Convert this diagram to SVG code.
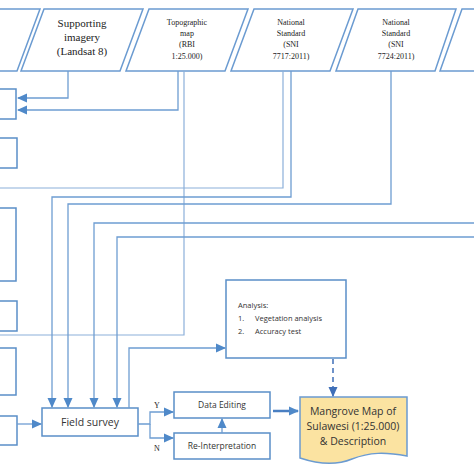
<svg xmlns="http://www.w3.org/2000/svg" width="474" height="474" viewBox="0 0 474 474">
<defs>
<style>
.par{fill:#fff;stroke:#6b9bd1;stroke-width:1.5}
.box{fill:#fff;stroke:#5a8ec8;stroke-width:1.5}
.ln{fill:none;stroke:#8cb0da;stroke-width:1.2}
.ln2{fill:none;stroke:#6e9dd2;stroke-width:1.3}
.tm{font-family:"Liberation Serif",serif;fill:#222;text-anchor:middle}
.ts{font-family:"Open Sans","Liberation Sans",sans-serif;fill:#333}
</style>
<marker id="ah" markerWidth="10" markerHeight="10" refX="9" refY="5" orient="auto" markerUnits="userSpaceOnUse">
<path d="M0,0.5 L10,5 L0,9.5 Z" fill="#4f89c9"/>
</marker>
<marker id="ahd" markerWidth="10" markerHeight="10" refX="9" refY="5" orient="auto" markerUnits="userSpaceOnUse">
<path d="M0,0.5 L10,5 L0,9.5 Z" fill="#3f6fb8"/>
</marker>
</defs>
<rect width="474" height="474" fill="#fff"/>

<g id="p1"><polygon class="par" points="-60,9 40,9 17,71 -83,71"/></g>
<g id="p2"><polygon class="par" points="44,9 143,9 120,71 21,71"/>
<text class="tm" font-size="11" x="82" y="27">Supporting</text>
<text class="tm" font-size="11" x="82" y="41">imagery</text>
<text class="tm" font-size="11" x="82" y="55">(Landsat 8)</text></g>
<g id="p3"><polygon class="par" points="149,9 248,9 225,71 126,71"/>
<text class="tm" font-size="8" x="187" y="25">Topographic</text>
<text class="tm" font-size="8" x="187" y="36">map</text>
<text class="tm" font-size="8" x="187" y="47">(RBI</text>
<text class="tm" font-size="8" x="187" y="59">1:25.000)</text></g>
<g id="p4"><polygon class="par" points="254,9 353,9 330,71 231,71"/>
<text class="tm" font-size="8" x="291" y="25">National</text>
<text class="tm" font-size="8" x="291" y="36">Standard</text>
<text class="tm" font-size="8" x="291" y="47">(SNI</text>
<text class="tm" font-size="8" x="291" y="59">7717:2011)</text></g>
<g id="p5"><polygon class="par" points="358,9 456,9 435,71 336,71"/>
<text class="tm" font-size="8" x="396" y="25">National</text>
<text class="tm" font-size="8" x="396" y="36">Standard</text>
<text class="tm" font-size="8" x="396" y="47">(SNI</text>
<text class="tm" font-size="8" x="396" y="59">7724:2011)</text></g>
<g id="p6"><polygon class="par" points="462,9 562,9 540,71 440,71"/></g>

<g id="b1"><rect class="box" x="-20" y="89" width="36" height="30"/></g>
<g id="b2"><rect class="box" x="-20" y="138" width="37" height="30"/></g>
<g id="b3"><rect class="box" x="-20" y="208" width="36" height="73"/></g>
<g id="b4"><rect class="box" x="-20" y="301" width="37" height="30"/></g>
<g id="b5"><rect class="box" x="-20" y="348" width="36" height="47"/></g>
<g id="b6"><rect class="box" x="-20" y="416" width="37" height="29"/></g>

<g id="fieldsurvey"><rect class="box" x="42" y="408" width="96" height="28"/>
<text class="ts" font-size="10.5" x="90" y="426" text-anchor="middle">Field survey</text></g>

<g id="analysis"><rect class="box" x="226" y="280" width="120" height="78"/>
<text class="ts" font-size="7.5" x="238" y="308">Analysis:</text>
<text class="ts" font-size="7.5" x="238" y="321">1.</text>
<text class="ts" font-size="7.5" x="255" y="321">Vegetation analysis</text>
<text class="ts" font-size="7.5" x="238" y="334">2.</text>
<text class="ts" font-size="7.5" x="255" y="334">Accuracy test</text></g>

<g id="dataediting"><rect class="box" x="174" y="392" width="96" height="26"/>
<text class="ts" font-size="8.5" x="222" y="408" text-anchor="middle">Data Editing</text></g>

<g id="reinterp"><rect class="box" x="174" y="433" width="96" height="26"/>
<text class="ts" font-size="8.5" x="222" y="449" text-anchor="middle">Re-Interpretation</text></g>

<g id="mangrove"><path d="M300,397 L407,397 L407,456 C385,452 370,452 352,459 C335,466 318,464 300,458 Z" fill="#fbe3a1" stroke="#6b9bd1" stroke-width="1.5"/>
<text class="ts" font-size="10.5" x="353" y="415" text-anchor="middle">Mangrove Map of</text>
<text class="ts" font-size="10.5" x="353" y="430" text-anchor="middle">Sulawesi (1:25.000)</text>
<text class="ts" font-size="10.5" x="353" y="445" text-anchor="middle">&amp; Description</text></g>

<g id="connectors">
<polyline class="ln2" points="68,71 68,98 18,98" marker-end="url(#ah)"/>
<polyline class="ln2" points="178,71 178,110 18,110" marker-end="url(#ah)"/>
<polyline class="ln" points="184,71 184,335 0,335"/>
<polyline class="ln" points="283,71 283,188 0,188"/>
<polyline class="ln2" points="291,71 291,197 52,197 52,407" marker-end="url(#ah)"/>
<polyline class="ln2" points="391,71 391,204 68,204 68,407" marker-end="url(#ah)"/>
<polyline class="ln2" points="474,223 94,223 94,407" marker-end="url(#ah)"/>
<polyline class="ln2" points="474,237 117,237 117,407" marker-end="url(#ah)"/>
<polyline class="ln2" points="17,424 41,424" marker-end="url(#ah)"/>
<polyline class="ln2" points="129,408 129,348 225,348" marker-end="url(#ah)"/>
<polyline class="ln2" points="138,424 150,424 150,412 173,412" marker-end="url(#ah)"/>
<polyline class="ln2" points="150,424 150,438 173,438" marker-end="url(#ah)"/>
<polyline class="ln2" points="222,433 222,419" marker-end="url(#ah)"/>
<polyline fill="none" stroke="#4a7fc2" stroke-width="2.5" points="273,411 298,411" marker-end="url(#ah)"/>
<polyline fill="none" stroke="#3f6fb8" stroke-width="1.5" stroke-dasharray="5,4" points="333,359 333,396" marker-end="url(#ahd)"/>
<text x="157" y="408" font-family="Liberation Serif,serif" font-size="8" fill="#222" text-anchor="middle">Y</text>
<text x="157" y="451" font-family="Liberation Serif,serif" font-size="8" fill="#222" text-anchor="middle">N</text>
</g>
</svg>
